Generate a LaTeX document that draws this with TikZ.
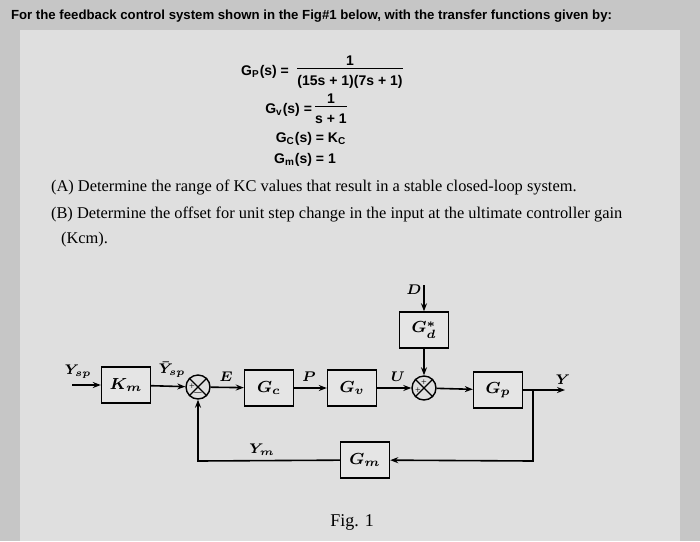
\documentclass[tikz,border=0pt]{standalone}
\usepackage{fontspec}
\setmainfont{Liberation Serif}
\newfontfamily\hdr{Liberation Sans}
\usetikzlibrary{arrows.meta}
\begin{document}
\begin{tikzpicture}[x=0.5pt,y=-0.5pt,
  blk/.style={draw,line width=0.7pt,fill=gray!20,minimum width=24.5pt,minimum height=18pt,font=\footnotesize\boldmath},
  sumn/.style={draw,circle,line width=0.7pt,minimum size=12pt,inner sep=0pt},
  lbl/.style={font=\scriptsize\boldmath,inner sep=1pt},
  eq/.style={font=\fontsize{7}{8}\selectfont\hdr\bfseries,anchor=east},
  sig/.style={line width=0.8pt,-{Stealth[length=4pt]}}]
\useasboundingbox (0,0) rectangle (700,541);
\fill[gray!45] (0,0) rectangle (700,541);
\fill[gray!25] (20,30) rectangle (680,541);
% text
\node[anchor=west,font=\hdr\bfseries\fontsize{6.6}{8}\selectfont] (t0) at (4,16) {For the feedback control system shown in the Fig\#1 below, with the transfer functions given by:};
\node[eq] (e1) at (296,72) {G\textsubscript{P}(s) =};
\node[font=\fontsize{7}{8}\selectfont\hdr\bfseries] (e1f) at (350,72) {\begin{tabular}{@{}c@{}}1\\[-1pt]\hline\rule{0pt}{8pt}(15s + 1)(7s + 1)\end{tabular}};
\node[eq] (e2) at (319,110) {G\textsubscript{v}(s) =};
\node[font=\fontsize{7}{8}\selectfont\hdr\bfseries] (e2f) at (331,110) {\begin{tabular}{@{}c@{}}1\\[-1pt]\hline\rule{0pt}{8pt}s + 1\end{tabular}};
\node[font=\fontsize{7}{8}\selectfont\hdr\bfseries] (e3) at (311,139) {G\textsubscript{C}(s) = K\textsubscript{C}};
\node[font=\fontsize{7}{8}\selectfont\hdr\bfseries] (e4) at (305,160) {G\textsubscript{m}(s) = 1};
\node[anchor=west,font=\fontsize{8.2}{10}\selectfont] (ta) at (44,187) {(A) Determine the range of KC values that result in a stable closed-loop system.};
\node[anchor=west,font=\fontsize{8.2}{10}\selectfont] (tb) at (44,214) {(B) Determine the offset for unit step change in the input at the ultimate controller gain};
\node[anchor=west,font=\fontsize{8.2}{10}\selectfont] (tc) at (54,240) {(Kcm).};
% diagram
\node[blk] (km) at (126,385) {$K_m$};
\node[sumn] (s1) at (198,387) {};
\draw[line width=0.6pt] (s1.north west)--(s1.south east) (s1.north east)--(s1.south west);
\node[font=\tiny] at (192,387) {+};
\node[font=\tiny] at (198,393) {$-$};
\node[blk] (gc) at (269,388) {$G_c$};
\node[blk] (gv) at (352,388) {$G_v$};
\node[sumn] (s2) at (424,388) {};
\draw[line width=0.6pt] (s2.north west)--(s2.south east) (s2.north east)--(s2.south west);
\node[font=\tiny] at (424,383) {+};
\node[font=\tiny] at (418,391) {+};
\node[blk] (gd) at (424,330) {$G_d^*$};
\node[blk] (gp) at (498,390) {$G_p$};
\node[blk] (gm) at (365,460) {$G_m$};
\coordinate (in) at (72,385);
\coordinate (dd) at (424,285);
\coordinate (br) at (533,390);
\coordinate (out) at (565,390);
\coordinate (fb) at (533,461);
\coordinate (fl) at (198,461);
\draw[sig] (in) -- (km);
\draw[sig] (km) -- (s1);
\draw[sig] (s1) -- (gc);
\draw[sig] (gc) -- (gv);
\draw[sig] (gv) -- (s2);
\draw[sig] (dd) -- (gd);
\draw[sig] (gd) -- (s2);
\draw[sig] (s2) -- (gp);
\draw[sig] (gp) -- (out);
\draw[sig] (br) -- (fb) -- (gm);
\draw[sig] (gm) -- (fl) -- (s1);
\node[lbl] at (78,372) {$Y_{sp}$};
\node[lbl] at (172,370) {$\bar{Y}_{sp}$};
\node[lbl] at (226,377) {$E$};
\node[lbl] at (309,377) {$P$};
\node[lbl] at (398,377) {$U$};
\node[lbl] at (414,290) {$D$};
\node[lbl] at (563,380) {$Y$};
\node[lbl] at (262,450) {$Y_m$};
\node[font=\small] (fig) at (352,522) {Fig. 1};
\end{tikzpicture}
\end{document}
